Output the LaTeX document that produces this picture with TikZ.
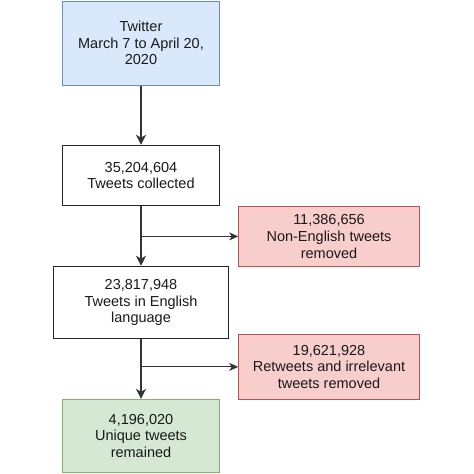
\documentclass[tikz,border=0pt]{standalone}
\usepackage{fontspec}
\setmainfont{Liberation Sans}
\usetikzlibrary{arrows.meta}
\definecolor{srcfill}{HTML}{DAE8FC}
\definecolor{srcline}{HTML}{6C8EBF}
\definecolor{dropfill}{HTML}{F8CECC}
\definecolor{dropline}{HTML}{B85450}
\definecolor{keepfill}{HTML}{D5E8D4}
\definecolor{keepline}{HTML}{82B366}

\begin{document}
\begin{tikzpicture}[x=1pt,y=-1pt,
  box/.style={draw=black!85, line width=1pt, align=center, inner sep=0pt,
    font=\fontsize{14.5}{16.7}\selectfont, text=black!90},
  flow/.style={-{Stealth[length=10pt,width=10pt,inset=3pt]}, line width=1.6pt, draw=black!80},
  side/.style={-{Stealth[length=9pt,width=8pt,inset=2.5pt]}, line width=1.1pt, draw=black!80}]
  % page frame
  \useasboundingbox (0,0) rectangle (474,474);
  % main column
  \node[box, fill=srcfill, draw=srcline, minimum width=157.7pt, minimum height=84pt]
    (twitter) at (141,43) {Twitter\\March 7 to April 20,\\2020};
  \node[box, minimum width=157.7pt, minimum height=60.7pt]
    (collected) at (141,175.6) {35,204,604\\Tweets collected};
  \node[box, minimum width=175pt, minimum height=72.7pt]
    (english) at (141,302.6) {23,817,948\\Tweets in English\\language};
  \node[box, fill=keepfill, draw=keepline, minimum width=157.7pt, minimum height=73.4pt]
    (unique) at (141,436) {4,196,020\\Unique tweets\\remained};
  % removed tweets
  \node[box, fill=dropfill, draw=dropline, minimum width=180.6pt, minimum height=60.7pt]
    (nonenglish) at (329,236.4) {11,386,656\\Non-English tweets\\removed};
  \node[box, fill=dropfill, draw=dropline, minimum width=180.6pt, minimum height=65.7pt]
    (retweets) at (329,366.9) {19,621,928\\Retweets and irrelevant\\tweets removed};
  % arrows
  \draw[flow] (twitter) -- (collected);
  \draw[flow] (collected) -- (english);
  \draw[flow] (english) -- (unique);
  \draw[side] (collected.south |- nonenglish.west) -- (nonenglish.west);
  \draw[side] (english.south |- retweets.west) -- (retweets.west);
\end{tikzpicture}
\end{document}
